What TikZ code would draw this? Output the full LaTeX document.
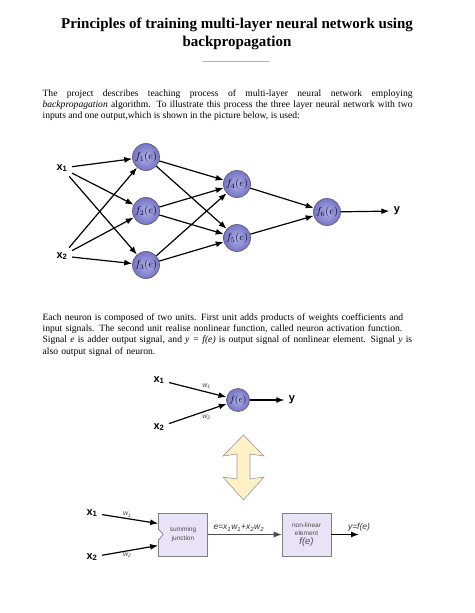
\documentclass[tikz,border=0pt]{standalone}
\usepackage{fontspec}
\setmainfont{Liberation Serif}
\setsansfont{Liberation Sans}
\usepackage{tikz}
\usetikzlibrary{arrows}
\usetikzlibrary{shapes.geometric}
\usetikzlibrary{positioning}
\usetikzlibrary{arrows.meta}
\usepackage{xcolor}
\definecolor{neuronin}{HTML}{ADADEA}
\definecolor{neuronout}{HTML}{7676C4}
\definecolor{neuronedge}{HTML}{5E5E80}
\definecolor{boxfill}{HTML}{EAE3F8}
\definecolor{boxedge}{HTML}{808080}
\definecolor{updown}{HTML}{FFF1C6}

\begin{document}
\begin{tikzpicture}[
        x=1pt, y=-1pt,
        neuron/.style={circle, draw=neuronedge, line width=0.7pt, inner color=neuronin, outer color=neuronout, minimum size=27pt, inner sep=0pt, font=\fontsize{10}{10}\selectfont},
        sneuron/.style={neuron, minimum size=23pt, font=\fontsize{9}{9}\selectfont},
        sig/.style={font=\sffamily\bfseries\fontsize{11}{11}\selectfont, inner sep=4pt},
        wlabel/.style={font=\sffamily\itshape\fontsize{7}{7}\selectfont, text=black!75, inner sep=1pt},
        unit/.style={rectangle, draw=boxedge, line width=0.7pt, fill=boxfill, minimum width=49pt, minimum height=43pt, align=center, inner sep=1pt, font=\sffamily\fontsize{6.5}{8.5}\selectfont, text=black!70},
        body/.style={text width=370pt, inner sep=0pt, anchor=north west, font=\fontsize{9.6}{11.3}\selectfont},
        node distance=54pt,
        ->, >={Latex[length=8pt,width=6pt]}, line width=1.2pt
    ]
        \useasboundingbox (0,0) rectangle (474,613);

        \node[align=center, font=\bfseries\fontsize{15}{17.5}\selectfont] (T) at (237,34)
            {Principles of training multi-layer neural network using\\backpropagation};
        \draw[-, black!30, line width=0.6pt] (203,61) -- (269,61);

        \node[body, align=justify] (P1) at (42,89) {The project describes teaching process of multi-layer neural network employing\linebreak
            \textit{backpropagation} algorithm. To illustrate this process the three layer neural network with two\linebreak
            inputs and one output,which is shown in the picture below, is used:};

        \node[neuron] (F2) at (146,211) {$f_{2}(e)$};
        \node[neuron] (F1) [above of=F2] {$f_{1}(e)$};
        \node[neuron] (F3) [below of=F2] {$f_{3}(e)$};
        \node[neuron] (F4) at (237,184) {$f_{4}(e)$};
        \node[neuron] (F5) [below of=F4] {$f_{5}(e)$};
        \node[neuron] (F6) at (327,212) {$f_{6}(e)$};
        \node[sig] (X1) at (62,168) {x\textsubscript{1}};
        \node[sig] (X2) at (62,256) {x\textsubscript{2}};
        \node[sig] (Y) at (397,211) {y};

        \path (X1) edge (F1) edge (F2) edge (F3)
            (X2) edge (F1) edge (F2) edge (F3)
            (F1) edge (F4) edge (F5)
            (F2) edge (F4) edge (F5)
            (F3) edge (F4) edge (F5)
            (F4) edge (F6)
            (F5) edge (F6)
            (F6) edge (Y);

        \node[body, align=left] (P2) at (42,313) {Each neuron is composed of two units. First unit adds products of weights coefficients and\\
            input signals. The second unit realise nonlinear function, called neuron activation function.\\
            Signal \textit{e} is adder output signal, and \textit{y = f(e)} is output signal of nonlinear element. Signal \textit{y} is\\
            also output signal of neuron.};

        \node[sneuron] (FE) at (238,400) {$f(e)$};
        \node[sig] (SX1) at (159,380) {x\textsubscript{1}};
        \node[sig] (SX2) at (159,427) {x\textsubscript{2}};
        \node[sig] (SY) at (292,400) {y};
        \path (SX1) edge node[wlabel, pos=0.55, above right] {w\textsubscript{1}} (FE)
            (SX2) edge node[wlabel, pos=0.55, below right] {w\textsubscript{2}} (FE)
            (FE) edge (SY);

        \filldraw[-, fill=updown, draw=black!40, line width=0.6pt]
            (243.5,435) -- (264,456) -- (250,454) -- (250,479) -- (264,477) -- (243.5,500)
            -- (223,477) -- (237,479) -- (237,454) -- (223,456) -- cycle;

        \node[unit] (S) at (183,534.5) {summing\\junction};
        \fill[white] ([yshift=6pt, xshift=-1pt]S.west) -- ([xshift=5pt]S.west) -- ([yshift=-6pt, xshift=-1pt]S.west) -- cycle;
        \draw[-, boxedge, line width=0.7pt] ([yshift=6pt]S.west) -- ([xshift=5pt]S.west) -- ([yshift=-6pt]S.west);
        \node[unit] (N) at (306.5,534.5) {non-linear\\element\\{\fontsize{9.5}{10}\itshape f(e)}};
        \node[sig] (BX1) at (92,513) {x\textsubscript{1}};
        \node[sig] (BX2) at (92,557) {x\textsubscript{2}};
        \coordinate (BY) at (359,534.5);

        \path (BX1) edge node[wlabel, pos=0.45, above] {w\textsubscript{1}} ([yshift=11pt]S.west)
            (BX2) edge node[wlabel, pos=0.45, below] {w\textsubscript{2}} ([yshift=-11pt]S.west)
            (N) edge node[font=\sffamily\itshape\fontsize{8.5}{8.5}\selectfont, text=black!80, above, pos=1, inner sep=3pt] {y=f(e)} (BY);
        \draw[line width=0.7pt, black!70, -{Latex[length=8pt,width=6pt]}] (S) -- node[font=\sffamily\itshape\fontsize{8.5}{8.5}\selectfont, text=black!80, above, pos=0.42, inner sep=3pt]
            {e=x\textsubscript{1}w\textsubscript{1}+x\textsubscript{2}w\textsubscript{2}} (N);
    \end{tikzpicture}
\end{document}
